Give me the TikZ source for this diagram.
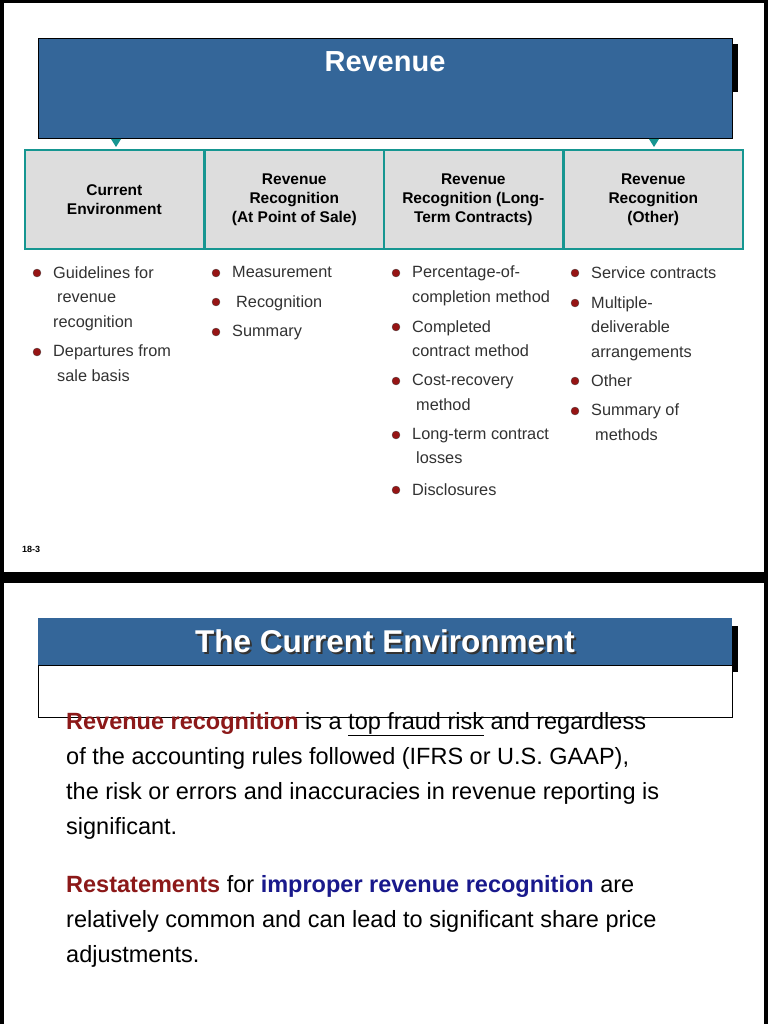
\documentclass[tikz,border=0pt]{standalone}
\usepackage{fontspec}
\setmainfont{Liberation Sans}
\definecolor{slideblue}{RGB}{52,102,153}
\definecolor{tealline}{RGB}{22,150,145}
\definecolor{boxgray}{RGB}{221,221,221}
\definecolor{bulletred}{RGB}{150,20,20}
\definecolor{textgray}{RGB}{50,50,50}
\definecolor{termred}{RGB}{140,25,25}
\definecolor{termblue}{RGB}{25,25,140}
\tikzset{
  topic/.style={draw=tealline, line width=1.6pt, fill=boxgray, minimum width=179pt, minimum height=99pt, anchor=north west, align=center, inner sep=0pt, font=\fontsize{15.5}{19}\selectfont\bfseries},
  item/.style={anchor=north west, inner sep=0pt, align=left, text=textgray, font=\fontsize{16.3}{24.5}\selectfont},
  bodyline/.style={anchor=base west, inner sep=0pt, font=\fontsize{23.5}{25}\selectfont},
  marker/.style={circle, fill=bulletred, draw=black!70, line width=0.3pt, inner sep=0pt, minimum size=8pt}
}
\begin{document}
\begin{tikzpicture}[x=1pt,y=-1pt]
\useasboundingbox (0,0) rectangle (768,1024);
% slide frames
\fill[black] (0,0) rectangle (768,1024);
\fill[white] (4,3) rectangle (764,572);
\fill[white] (4,583) rectangle (764,1024);

% upper slide header
\fill[black] (44,44) rectangle (738,92);
\node[draw=black, fill=slideblue, minimum width=694pt, minimum height=100pt, anchor=north west, inner sep=0pt] (revenue) at (38,38) {};
\node[text=white, font=\fontsize{29}{32}\selectfont\bfseries] (revtitle) at (385,62) {Revenue};
\fill[tealline] (111,139) -- (121,139) -- (116,147) -- cycle;
\fill[tealline] (649,139) -- (659,139) -- (654,147) -- cycle;

% topic boxes
\node[topic] (current) at (24,149) {Current\\Environment};
\node[topic] (pointsale) at (204,149) {Revenue\\Recognition\\(At Point of Sale)};
\node[topic] (longterm) at (383,149) {Revenue\\Recognition (Long-\\Term Contracts)};
\node[topic] (other) at (563,149) {Revenue\\Recognition\\(Other)};

% bullet lists
\foreach \x/\y/\txt in {
  53/266/{Guidelines for\\\hspace{4pt}revenue\\recognition},
  53/345/{Departures from\\\hspace{4pt}sale basis},
  232/266/{Measurement},
  232/295/{\hspace{4pt}Recognition},
  232/325/{Summary},
  412/266/{Percentage-of-\\completion method},
  412/320/{Completed\\contract method},
  412/374/{Cost-recovery\\\hspace{4pt}method},
  412/428/{Long-term contract\\\hspace{4pt}losses},
  412/483/{Disclosures},
  591/266/{Service contracts},
  591/296/{Multiple-\\deliverable\\arrangements},
  591/374/{Other},
  591/404/{Summary of\\\hspace{4pt}methods}} {
  \node[item] (i\x-\y) at (\x,\y) {\txt};
  \node[marker] at (\x-16,\y+7) {};
}
\node[anchor=west, inner sep=0pt, font=\fontsize{9}{10}\selectfont\bfseries] (pagenum) at (22,549) {18-3};

% lower slide header
\fill[black] (44,626) rectangle (738,672);
\node[draw=black, line width=0.4pt, minimum width=694pt, minimum height=52pt, anchor=north west, inner sep=0pt, fill=white] (bodybox) at (38,665) {};
\node[fill=slideblue, minimum width=694pt, minimum height=47pt, anchor=north west, inner sep=0pt] (envhead) at (38,618) {};
\node[text=black!80, font=\fontsize{31.5}{34}\selectfont\bfseries] at (387,643) {The Current Environment};
\node[text=white, font=\fontsize{31.5}{34}\selectfont\bfseries] (envtitle) at (385,641) {The Current Environment};

% body text
\node[bodyline] (l1) at (66,729) {\textcolor{termred}{\bfseries Revenue recognition} is a \underline{top fraud risk} and regardless};
\node[bodyline] (l2) at (66,764) {of the accounting rules followed (IFRS or U.S. GAAP),};
\node[bodyline] (l3) at (66,799) {the risk or errors and inaccuracies in revenue reporting is};
\node[bodyline] (l4) at (66,834) {significant.};
\node[bodyline] (l5) at (66,892) {\textcolor{termred}{\bfseries Restatements} for \textcolor{termblue}{\bfseries improper revenue recognition} are};
\node[bodyline] (l6) at (66,927) {relatively common and can lead to significant share price};
\node[bodyline] (l7) at (66,962) {adjustments.};
\end{tikzpicture}
\end{document}
